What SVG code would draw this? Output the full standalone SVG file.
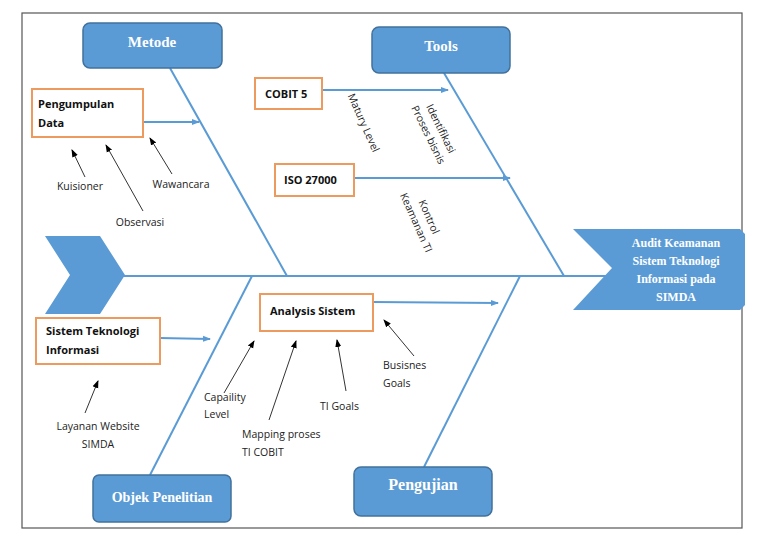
<svg xmlns="http://www.w3.org/2000/svg" width="768" height="543" viewBox="0 0 768 543">
<defs>
<marker id="ab" markerWidth="8" markerHeight="8" refX="7" refY="4" orient="auto" markerUnits="userSpaceOnUse"><path d="M0,1 L8,4 L0,7 Z" fill="#5b9bd5"/></marker>
<marker id="ak" markerWidth="8" markerHeight="8" refX="7" refY="4" orient="auto" markerUnits="userSpaceOnUse"><path d="M0,1 L8,4 L0,7 Z" fill="#000"/></marker>
</defs>
<style>
.cat{fill:#5b9bd5;stroke:#41719c;stroke-width:1.5}
.ct{font-family:"Liberation Serif",serif;font-weight:bold;fill:#fff;text-anchor:middle}
.ob{fill:#fff;stroke:#ed9a5e;stroke-width:2}
.ot{font-family:"Open Sans","Liberation Sans",sans-serif;font-weight:bold;font-size:11px;fill:#111}
.bl{stroke:#5b9bd5;stroke-width:2;fill:none}
.bk{stroke:#333;stroke-width:1;fill:none;marker-end:url(#ak)}
.lt{font-family:"Open Sans","Liberation Sans",sans-serif;font-size:10.5px;fill:#222}
</style>
<rect width="768" height="543" fill="#fff"/>
<rect x="22" y="13" width="720" height="515" fill="none" stroke="#555" stroke-width="1.2"/>
<g id="connectors">
<line class="bl" x1="120" y1="276" x2="612" y2="276"/>
<line class="bl" x1="170" y1="68" x2="287" y2="276"/>
<line class="bl" x1="444" y1="73" x2="564" y2="276"/>
<line class="bl" x1="150" y1="475" x2="252" y2="276"/>
<line class="bl" x1="424" y1="467" x2="520" y2="276"/>
<line class="bl" x1="138" y1="122" x2="199" y2="122" marker-end="url(#ab)"/>
<line class="bl" x1="323" y1="90" x2="448" y2="90" marker-end="url(#ab)"/>
<line class="bl" x1="354" y1="178" x2="510" y2="178" marker-end="url(#ab)"/>
<line class="bl" x1="160" y1="338" x2="210" y2="339" marker-end="url(#ab)"/>
<line class="bl" x1="373" y1="302" x2="498" y2="303" marker-end="url(#ab)"/>
<line class="bk" x1="85" y1="177" x2="72" y2="150"/>
<line class="bk" x1="143" y1="211" x2="106" y2="145"/>
<line class="bk" x1="172" y1="174" x2="150" y2="138"/>
<line class="bk" x1="85" y1="413" x2="98" y2="381"/>
<line class="bk" x1="224" y1="393" x2="254" y2="341"/>
<line class="bk" x1="269" y1="420" x2="296" y2="341"/>
<line class="bk" x1="346" y1="391" x2="337" y2="340"/>
<line class="bk" x1="414" y1="356" x2="384" y2="320"/>
</g>
<g id="tail"><polygon points="45,236 100,236 125,275 100,314 45,314 70,275" fill="#5b9bd5"/></g>
<g id="head">
<polygon points="573,229 740,229 745,234 745,305 740,310 573,310 612,268" fill="#5b9bd5"/>
<text class="ct" font-size="12" x="676"><tspan x="676" y="247">Audit Keamanan</tspan><tspan x="676" y="265">Sistem Teknologi</tspan><tspan x="676" y="283">Informasi pada</tspan><tspan x="676" y="301">SIMDA</tspan></text>
</g>
<g id="metode"><rect class="cat" x="83" y="23" width="139" height="45" rx="7"/><text class="ct" font-size="15" x="152" y="47">Metode</text></g>
<g id="tools"><rect class="cat" x="372" y="27" width="138" height="46" rx="7"/><text class="ct" font-size="15" x="441" y="51">Tools</text></g>
<g id="objek"><rect class="cat" x="93" y="475" width="138" height="47" rx="6"/><text class="ct" font-size="14" x="162" y="502">Objek Penelitian</text></g>
<g id="pengujian"><rect class="cat" x="354" y="467" width="138" height="49" rx="7"/><text class="ct" font-size="16" x="423" y="490">Pengujian</text></g>
<g id="pengumpulan"><rect class="ob" x="32" y="89" width="111" height="48"/><text class="ot"><tspan x="38" y="108">Pengumpulan</tspan><tspan x="38" y="127">Data</tspan></text></g>
<g id="cobit"><rect class="ob" x="255" y="78" width="67" height="31"/><text class="ot" x="265" y="98">COBIT 5</text></g>
<g id="iso"><rect class="ob" x="275" y="164" width="79" height="32"/><text class="ot" x="284" y="184">ISO 27000</text></g>
<g id="sti"><rect class="ob" x="36" y="318" width="124" height="46"/><text class="ot"><tspan x="46" y="335">Sistem Teknologi</tspan><tspan x="46" y="354">Informasi</tspan></text></g>
<g id="analysis"><rect class="ob" x="260" y="294" width="113" height="37"/><text class="ot" x="270" y="315">Analysis Sistem</text></g>
<g id="labels" class="lt">
<text class="lt" x="80" y="190" text-anchor="middle">Kuisioner</text>
<text class="lt" x="140" y="226" text-anchor="middle">Observasi</text>
<text class="lt" x="181" y="188" text-anchor="middle">Wawancara</text>
<text class="lt" text-anchor="middle"><tspan x="98" y="430">Layanan Website</tspan><tspan x="98" y="448">SIMDA</tspan></text>
<text class="lt"><tspan x="204" y="401">Capaility</tspan><tspan x="204" y="418">Level</tspan></text>
<text class="lt"><tspan x="242" y="438">Mapping proses</tspan><tspan x="242" y="456">TI COBIT</tspan></text>
<text class="lt" x="320" y="410">TI Goals</text>
<text class="lt"><tspan x="383" y="369">Busisnes</tspan><tspan x="383" y="387">Goals</tspan></text>
<text class="lt" text-anchor="middle" transform="translate(363,123) rotate(66)" y="3">Matury Level</text>
<text class="lt" text-anchor="middle" transform="translate(434,132) rotate(64)"><tspan x="0" y="-4">Identifikasi</tspan><tspan x="0" y="10">Proses bisnis</tspan></text>
<text class="lt" text-anchor="middle" transform="translate(422,220) rotate(66)"><tspan x="0" y="-4">Kontrol</tspan><tspan x="0" y="10">Keamanan TI</tspan></text>
</g>
</svg>
